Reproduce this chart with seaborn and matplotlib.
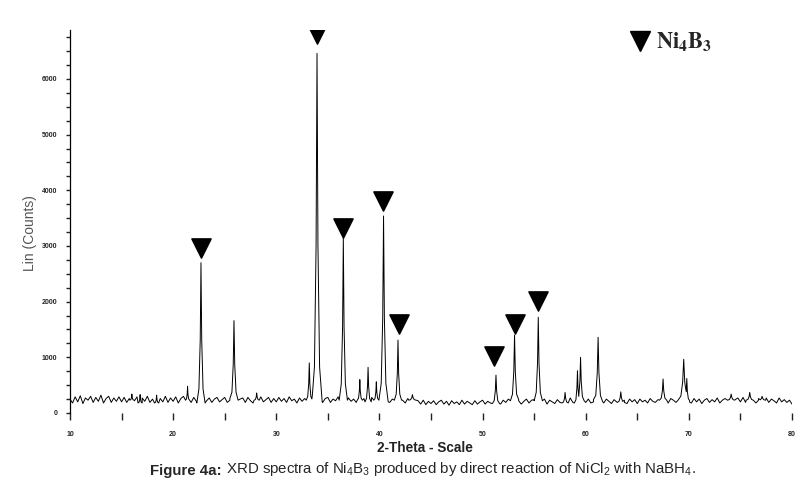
import numpy as np
import pandas as pd
import seaborn as sns
import matplotlib.pyplot as plt
from matplotlib.lines import Line2D
from matplotlib.ticker import MultipleLocator

## baseline read every 0.25 deg from 10 to 80 (counts)
base_counts = [
    250, 180, 290, 200, 310, 170, 270, 230, 300, 190, 280, 210, 320, 180, 260, 300, 190, 270, 210, 290,
    200, 280, 190, 260, 330, 220, 290, 180, 270, 210, 300, 190, 250, 280, 180, 260, 200, 300, 190, 270,
    210, 290, 180, 260, 300, 200, 250, 190, 280, 210, 260, 180, 290, 220, 270, 190, 250, 280, 200, 240,
    280, 190, 260, 210, 290, 180, 250, 270, 190, 280, 220, 180, 270, 210, 290, 200, 240, 280, 190, 260,
    200, 280, 210, 260, 190, 290, 220, 250, 180, 270, 210, 260, 300, 230, 290, 250, 200, 270, 190, 260,
    280, 190, 250, 220, 290, 180, 260, 200, 270, 210, 250, 190, 280, 230, 260, 300, 200, 280, 220, 290,
    250, 290, 200, 260, 190, 250, 170, 240, 160, 230, 180, 260, 290, 240, 170, 220, 160, 230, 150, 210,
    170, 220, 150, 200, 230, 160, 210, 140, 220, 170, 200, 150, 230, 160, 210, 180, 150, 220, 160, 200,
    230, 160, 210, 180, 240, 170, 220, 160, 230, 190, 250, 170, 220, 180, 240, 160, 210, 250, 180, 230,
    240, 170, 220, 190, 250, 160, 230, 200, 170, 240, 190, 260, 180, 230, 270, 190, 240, 180, 220, 260,
    190, 250, 180, 240, 270, 200, 230, 180, 250, 210, 170, 240, 200, 260, 190, 230, 170, 250, 200, 240,
    170, 250, 200, 230, 180, 260, 210, 190, 240, 170, 250, 210, 180, 260, 230, 190, 270, 210, 250, 190,
    240, 180, 260, 200, 250, 170, 230, 260, 190, 240, 200, 270, 180, 230, 260, 200, 280, 190, 240, 270,
    200, 280, 190, 250, 290, 210, 180, 260, 300, 200, 270, 190, 250, 220, 180, 270, 200, 240, 190, 230,
    160,
]
base_2theta = np.round(np.arange(10, 80.001, 0.25), 2)

## peaks: position (2-theta), top (counts), half width at foot (deg)
peak_2theta = [16.0, 16.8, 18.4, 21.4, 22.7, 25.9, 28.1, 33.2, 33.95, 36.5, 38.1, 38.9, 39.7,
               40.4, 41.8, 43.2, 51.3, 53.1, 55.4, 58.0, 59.2, 59.5, 61.2, 63.4, 67.5,
               69.5, 69.8, 74.1, 75.9, 77.1]
peak_top = [340, 330, 320, 480, 2700, 1660, 360, 900, 6460, 3140, 600, 820, 560,
            3540, 1310, 330, 680, 1400, 1720, 370, 760, 1000, 1360, 380, 610,
            965, 620, 340, 370, 300]
peak_hw = [0.2, 0.2, 0.2, 0.2, 0.4, 0.4, 0.25, 0.3, 0.5, 0.4, 0.25, 0.3, 0.25,
           0.45, 0.35, 0.35, 0.35, 0.4, 0.4, 0.3, 0.3, 0.35, 0.45, 0.35, 0.35,
           0.55, 0.3, 0.35, 0.35, 0.35]

## Ni4B3 markers
tri_2theta = [22.75, 33.95, 36.5, 40.35, 41.85, 51.15, 53.1, 55.4]
tri_counts = [2960, 6800, 3320, 3800, 1600, 1020, 1600, 2010]

x_ticks = [10, 20, 30, 40, 50, 60, 70, 80]
y_ticks = [0, 1000, 2000, 3000, 4000, 5000, 6000]

# build the profile
shape_off = np.array([-1, -0.5, -0.18, 0, 0.18, 0.5, 1])
shape_frac = np.array([0, 0.1, 0.45, 1, 0.45, 0.1, 0])
base_counts = np.array(base_counts, dtype=float)

def peak_value(i, xx):
    c, h, w = peak_2theta[i], peak_top[i], peak_hw[i]
    b = base_counts[np.argmin(abs(base_2theta - c))]
    b = min(b, 230)
    return np.interp(xx, c + shape_off * w, b + shape_frac * (h - b), left=-1, right=-1)

keep = np.ones(len(base_2theta), bool)
for c, w in zip(peak_2theta, peak_hw):
    keep &= ~((base_2theta > c - w) & (base_2theta < c + w))
xs = list(base_2theta[keep])
ys = list(base_counts[keep])
for i, (c, w) in enumerate(zip(peak_2theta, peak_hw)):
    px = c + shape_off * w
    xs += list(px)
    ys += list(peak_value(i, px))
xs = np.array(xs)
ys = np.array(ys)
for i in range(len(peak_2theta)):
    ys = np.maximum(ys, peak_value(i, xs))
df = pd.DataFrame({"two_theta": xs, "counts": ys}).sort_values("two_theta")

sns.set_style("white")
plt.rcParams['font.family'] = ['Liberation Sans', 'DejaVu Sans']
plt.rcParams['mathtext.fontset'] = 'custom'
plt.rcParams['mathtext.rm'] = 'Liberation Sans'
plt.rcParams['mathtext.bf'] = 'Liberation Sans:bold'
plt.rcParams['mathtext.it'] = 'Liberation Sans:italic'
plt.rcParams['xtick.bottom'] = True
plt.rcParams['ytick.left'] = True

fig = plt.figure(figsize=(8.09, 4.88), dpi=100)
ax = fig.add_axes([0.0865, 0.1537, 0.8925, 0.7848])

sns.lineplot(data=df, x="two_theta", y="counts", estimator=None, sort=False,
             color="black", linewidth=0.7, ax=ax)
sns.scatterplot(x=tri_2theta, y=tri_counts, marker="v", s=190, color="black",
                edgecolor="black", ax=ax)

ax.set_xlim(10, 80)
ax.set_ylim(0, 6880)
ax.set_xticks(x_ticks)
ax.set_yticks(y_ticks)
ax.xaxis.set_minor_locator(MultipleLocator(5))
ax.yaxis.set_minor_locator(MultipleLocator(250))
ax.tick_params(axis="both", which="both", direction="out", length=5, width=1,
               color="#222222", labelsize=5, bottom=True, left=True)
ax.tick_params(axis="y", which="both", length=3)
for lab in ax.get_xticklabels() + ax.get_yticklabels():
    lab.set_fontweight("bold")
ax.tick_params(axis="x", pad=8)
ax.tick_params(axis="y", pad=6)
for s in ["top", "right", "bottom"]:
    ax.spines[s].set_visible(False)
ax.spines["left"].set_color("black")
ax.spines["left"].set_linewidth(0.9)

ax.set_xlabel("2-Theta - Scale", fontsize=9.8, fontweight="bold", color="#222222")
ax.set_ylabel("Lin (Counts)", fontsize=10, color="#555555")
ax.xaxis.set_label_coords(0.492, -0.072)
ax.yaxis.set_label_coords(-0.046, 0.47)

handle = Line2D([], [], marker="v", color="black", linestyle="none", markersize=14)
leg = ax.legend([handle], [r"$\mathbf{Ni_4B_3}$"], frameon=False, loc="upper left",
                bbox_to_anchor=(0.743, 1.05), fontsize=16, handletextpad=0.15,
                handlelength=1.2)
leg.get_texts()[0].set_math_fontfamily("stix")

t1 = fig.text(0.1855, 0.035, "Figure 4a:", ha="left", va="center", fontsize=10.8,
              fontweight="bold")
ax.annotate(r" XRD spectra of Ni$_4$B$_3$ produced by direct reaction of NiCl$_2$ with NaBH$_4$.",
            xy=(1, 0), xycoords=t1, va="bottom", ha="left", fontsize=10.8,
            annotation_clip=False)

fig.savefig("out.png", dpi=100)
